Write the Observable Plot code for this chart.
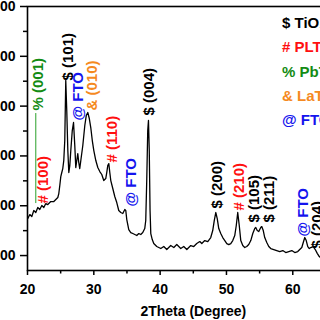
<!DOCTYPE html>
<html>
<head>
<meta charset="utf-8">
<script src="https://cdn.jsdelivr.net/npm/d3@7"></script>
<script src="https://cdn.jsdelivr.net/npm/@observablehq/plot@0.6"></script>
<style>
  html, body { margin: 0; padding: 0; background: #fff; }
  body { width: 320px; height: 320px; overflow: hidden; position: relative;
         font-family: "Liberation Sans", Arial, sans-serif; }
  #chart { position: absolute; left: -23.3px; top: 0; width: 392px; }
  #chart svg { max-width: none !important; display: block; }
  #chart svg, #chart svg text { font-family: "Liberation Sans", Arial, sans-serif !important; }
  .legend { position: absolute; left: 282px; font-weight: bold; font-size: 15px;
            white-space: nowrap; line-height: 1; }
</style>
</head>
<body>
<div id="chart"></div>
<script>
// XRD pattern: 2θ (degrees) and intensity (counts)
const twoTheta = [
  20.05, 20.35, 20.65, 20.95, 21.25, 21.55, 21.85, 22.16, 22.46, 22.76, 23.06, 23.51, 23.97,
  24.27, 24.57, 24.72, 24.87, 25.02, 25.17, 25.32, 25.47, 25.62, 25.77, 25.92, 26.08, 26.23,
  26.38, 26.53, 26.75, 26.94, 27.13, 27.28, 27.43, 27.58, 27.73, 27.88, 28.04, 28.34, 28.64,
  28.86, 29.09, 29.32, 29.54, 29.77, 30.00, 30.30, 30.60, 30.90, 31.20, 31.50, 31.80, 31.95,
  32.10, 32.26, 32.41, 32.56, 32.86, 33.16, 33.46, 33.76, 34.07, 34.37, 34.67, 34.82, 34.97,
  35.27, 35.57, 35.88, 36.18, 36.48, 36.78, 37.08, 37.38, 37.68, 37.83, 37.98, 38.13, 38.24,
  38.36, 38.48, 38.59, 38.81, 39.04, 39.49, 40.10, 40.55, 41.00, 41.60, 42.06, 42.51, 43.11,
  43.56, 44.02, 44.62, 45.07, 45.52, 45.98, 46.28, 46.73, 47.18, 47.63, 47.93, 48.16, 48.39,
  48.61, 48.84, 49.14, 49.44, 49.75, 50.05, 50.35, 50.65, 50.95, 51.25, 51.48, 51.70, 51.93,
  52.16, 52.46, 52.76, 53.06, 53.36, 53.67, 53.97, 54.27, 54.42, 54.64, 54.87, 55.17, 55.32,
  55.55, 55.77, 56.08, 56.38, 56.68, 57.13, 57.58, 58.04, 58.49, 58.94, 59.40, 59.85, 60.30,
  60.75, 61.05, 61.36, 61.58, 61.81, 62.03, 62.26, 62.49, 62.71, 63.09, 63.39, 63.69, 64.00,
  64.37, 64.80, 65.20
];
const intensity = [
  1743, 1823, 1783, 1904, 1864, 1964, 1924, 2004, 1964, 2044, 2024, 2084, 2084,
  2125, 2165, 2245, 2406, 2586, 2667, 2747, 2908, 3309, 4514, 3912, 3108, 2667,
  2807, 3108, 3510, 3671, 3209, 2767, 2908, 3048, 2868, 2747, 2908, 3209, 3611,
  3811, 3872, 3751, 3570, 3309, 3108, 2908, 2767, 2687, 2627, 2506, 2546, 2667,
  2807, 2847, 2667, 2506, 2346, 2185, 2064, 1904, 1864, 1844, 1924, 1904, 1723,
  1522, 1462, 1442, 1422, 1402, 1442, 1422, 1462, 1542, 1703, 2506, 3510, 3711,
  3108, 1904, 1442, 1321, 1241, 1181, 1141, 1181, 1121, 1201, 1161, 1221, 1141,
  1181, 1121, 1201, 1181, 1241, 1281, 1241, 1301, 1281, 1362, 1502, 1703, 1864,
  1743, 1542, 1442, 1362, 1301, 1241, 1221, 1241, 1301, 1402, 1603, 1864, 1603,
  1301, 1201, 1161, 1181, 1221, 1301, 1442, 1542, 1562, 1502, 1482, 1562, 1582,
  1502, 1362, 1261, 1181, 1141, 1121, 1100, 1080, 1100, 1060, 1080, 1100, 1060,
  1080, 1121, 1161, 1261, 1362, 1301, 1181, 1141, 1161, 1181, 1121, 1044, 980,
  940, 900, 880
];

// Peak annotations: phase symbol + Miller index, placed at (2θ, intensity)
const peakLabels = ["$ (101)", "@ FTO", "& (010)", "# (110)", "@ FTO", "$ (004)", "% (001)",
  "# (100)", "$ (200)", "# (210)", "$ (105)", "$ (211)", "@ FTO", "$ (204)"];
const peakPhase = ["TiO2", "FTO", "LaTiO3", "PLT", "FTO", "TiO2", "PbTiO3",
  "PLT", "TiO2", "PLT", "TiO2", "TiO2", "FTO", "TiO2"];
const peakTheta = [26.08, 27.59, 29.69, 32.71, 35.57, 38.29, 21.55,
  22.31, 48.54, 51.86, 54.22, 56.48, 61.52, 63.63];
const peakLevel = [4514, 3711, 3912, 2868, 1984, 3811, 3912,
  2044, 1944, 1904, 1663, 1663, 1382, 1141];

// PbTiO3 reference stick
const stickTheta = [21.25];
const stickFrom = [2044];
const stickTo = [3851];

// Legend entries
const legendText = ["$ TiO\u2082", "# PLTO", "% PbTiO\u2083", "& LaTiO\u2083", "@ FTO"];
const legendPhase = ["TiO2", "PLT", "PbTiO3", "LaTiO3", "FTO"];

const phaseColor = {
  TiO2: "#000000", PLT: "#ff1010", PbTiO3: "#138c13", LaTiO3: "#f58a1f", FTO: "#1414ee"
};

const xMajor = [20, 30, 40, 50, 60];
const xMinor = [25, 35, 45, 55, 65];
const yMajor = [1000, 2000, 3000, 4000, 5000, 6000];
const yMinor = [1500, 2500, 3500, 4500, 5500];

const curve = twoTheta.map((t, i) => ({t, v: intensity[i]}));
const peaks = peakLabels.map((s, i) => ({s, phase: peakPhase[i], t: peakTheta[i], v: peakLevel[i]}));
const sticks = stickTheta.map((t, i) => ({t, y1: stickFrom[i], y2: stickTo[i]}));

const font = {fontSize: 14, fontWeight: "bold"};

const plot = Plot.plot({
  width: 392, height: 320,
  marginLeft: 50, marginRight: 10.4, marginTop: 6, marginBottom: 50,
  x: {domain: [20, 70]},
  y: {domain: [700, 6000]},
  style: {background: "transparent", color: "#000"},
  marks: [
    Plot.ruleX(sticks, {x: "t", y1: "y1", y2: "y2", stroke: "#2aa02a", strokeWidth: 1}),
    Plot.line(curve, {x: "t", y: "v", stroke: "#000", strokeWidth: 1.3, clip: true}),
    Plot.text(peaks, {
      x: "t", y: "v", text: "s", fill: d => phaseColor[d.phase],
      rotate: -90, textAnchor: "start", lineAnchor: "middle",
      fontSize: 15, fontWeight: "bold"
    }),
    Plot.frame({stroke: "#000", strokeWidth: 1.6}),
    Plot.axisX({ticks: xMajor, tickSize: 5, tickPadding: 9, tickFormat: d3.format("d"),
      strokeWidth: 1.5, label: null, ...font}),
    Plot.axisX({ticks: xMinor, tickSize: 3.5, text: null, strokeWidth: 1.5, label: null}),
    Plot.axisY({ticks: yMajor, tickSize: 7, tickPadding: 5, tickFormat: d3.format("d"),
      strokeWidth: 1.5, label: null, ...font}),
    Plot.axisY({ticks: yMinor, tickSize: 4, text: null, strokeWidth: 1.5, label: null}),
    Plot.text(["2Theta (Degree)"], {frameAnchor: "bottom", dy: 41, lineAnchor: "middle", ...font})
  ]
});
document.getElementById("chart").append(plot);

// Legend inside the upper right of the frame
legendText.forEach((txt, i) => {
  const div = document.createElement("div");
  div.className = "legend";
  div.style.top = (15 + i * 24.3) + "px";
  div.style.color = phaseColor[legendPhase[i]];
  div.textContent = txt;
  document.body.append(div);
});
</script>
</body>
</html>
